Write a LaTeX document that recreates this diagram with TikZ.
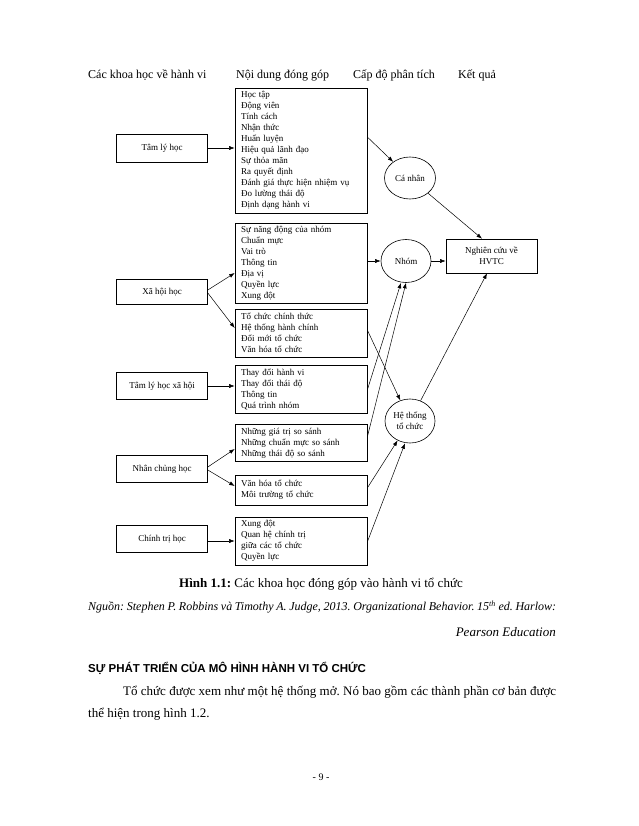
\documentclass[tikz,border=0pt]{standalone}
\usepackage{fontspec}
\setmainfont{Liberation Serif}
\newfontfamily\headsans{Liberation Sans}
\usetikzlibrary{shapes.geometric,arrows.meta}
\frenchspacing
\begin{document}
\begin{tikzpicture}[x=1pt,y=-1pt,
  lbox/.style={draw,line width=0.6pt,minimum width=91pt,minimum height=28pt,inner sep=0pt,font=\fontsize{9}{11}\selectfont},
  cbox/.style={draw,line width=0.6pt,inner xsep=6pt,inner ysep=0pt,text width=120pt,align=left,font=\fontsize{9}{11}\selectfont},
  ell/.style={draw,ellipse,line width=0.6pt,minimum width=51pt,minimum height=42pt,inner sep=0pt,align=center,font=\fontsize{9}{11}\selectfont},
  arr/.style={line width=0.5pt,-{Latex[length=5.5pt,width=4pt]}},
  txt/.style={inner sep=0pt,font=\fontsize{12}{14}\selectfont}
  ]
\fill[white] (0,0) rectangle (638,826);
\useasboundingbox (0,0) rectangle (638,826);

% headers
\node[txt,anchor=base west] (h1) at (88,79) {Các khoa học về hành vi};
\node[txt,anchor=base west] (h2) at (236,79) {Nội dung đóng góp};
\node[txt,anchor=base west] (h3) at (353,79) {Cấp độ phân tích};
\node[txt,anchor=base west] (h4) at (458,79) {Kết quả};

% left column
\node[lbox] (tamly) at (162,148) {Tâm lý học};
\node[lbox,minimum height=25pt] (xahoi) at (162,292) {Xã hội học};
\node[lbox,minimum height=27pt] (tlxh) at (162,386) {Tâm lý học xã hội};
\node[lbox,minimum height=27pt] (nhanchung) at (162,469) {Nhân chủng học};
\node[lbox,minimum height=27pt] (chinhtri) at (162,539) {Chính trị học};

% middle column
\node[cbox,minimum height=125pt] (b1) at (301,150.5) {Học tập\\Động viên\\Tính cách\\Nhận thức\\Huấn luyện\\Hiệu quả lãnh đạo\\Sự thỏa mãn\\Ra quyết định\\Đánh giá thực hiện nhiệm vụ\\Đo lường thái độ\\Định dạng hành vi};
\node[cbox,minimum height=80pt] (b2) at (301,263) {Sự năng động của nhóm\\Chuẩn mực\\Vai trò\\Thông tin\\Địa vị\\Quyền lực\\Xung đột};
\node[cbox,minimum height=48pt] (b3) at (301,333) {Tổ chức chính thức\\Hệ thống hành chính\\Đổi mới tổ chức\\Văn hóa tổ chức};
\node[cbox,minimum height=48pt] (b4) at (301,389) {Thay đổi hành vi\\Thay đổi thái độ\\Thông tin\\Quá trình nhóm};
\node[cbox,minimum height=37pt] (b5) at (301,443) {Những giá trị so sánh\\Những chuẩn mực so sánh\\Những thái độ so sánh};
\node[cbox,minimum height=30pt] (b6) at (301,490) {Văn hóa tổ chức\\Môi trường tổ chức};
\node[cbox,minimum height=48pt] (b7) at (301,541) {Xung đột\\Quan hệ chính trị\\giữa các tổ chức\\Quyền lực};

% analysis level
\node[ell] (canhan) at (410,178) {Cá nhân};
\node[ell,minimum width=50pt,minimum height=43pt] (nhom) at (406,261) {Nhóm};
\node[ell,minimum width=50pt,minimum height=44pt] (heth) at (410,421) {Hệ thống\\tổ chức};
\node[draw,line width=0.6pt,minimum width=91pt,minimum height=34pt,inner sep=0pt,align=center,font=\fontsize{9}{11}\selectfont] (hvtc) at (491.5,256) {Nghiên cứu về\\HVTC};

% left arrows
\draw[arr] (tamly.east) -- (b1.west |- tamly.east);
\draw[arr] (xahoi.east |- 0,290) -- (b2.west |- 0,273);
\draw[arr] (xahoi.east |- 0,293) -- (b3.west |- 0,328);
\draw[arr] (tlxh.east) -- (b4.west |- tlxh.east);
\draw[arr] (nhanchung.east |- 0,467) -- (b5.west |- 0,449);
\draw[arr] (nhanchung.east |- 0,470) -- (b6.west |- 0,486);
\draw[arr] (chinhtri.east |- 0,541) -- (b7.west |- 0,541);

% right arrows
\draw[arr] (b1.east |- 0,137) -- (canhan);
\draw[arr] (canhan) -- (482,0 |- hvtc.north);
\draw[arr] (b2.east |- nhom.west) -- (nhom.west);
\draw[arr] (nhom.east) -- (hvtc.west |- nhom.east);
\draw[arr] (b3.east |- 0,330) -- (heth);
\draw[arr] (b4.east |- 0,390) -- (401,0 |- nhom.south);
\draw[arr] (b5.east |- 0,437) -- (nhom.south);
\draw[arr] (b6.east |- 0,488) -- (heth);
\draw[arr] (b7.east |- 0,542) -- (405,0 |- heth.south);
\draw[arr] (heth) -- (487,0 |- hvtc.south);

% caption and text
\node[inner sep=0pt,font=\fontsize{13}{15}\selectfont] (cap) at (321,584) {\textbf{Hình 1.1:} Các khoa học đóng góp vào hành vi tổ chức};
\node[inner sep=0pt,anchor=west,font=\fontsize{12}{15}\selectfont] (src1) at (88,607) {\makebox[468pt][s]{\itshape Nguồn: Stephen P. Robbins và Timothy A. Judge, 2013. Organizational Behavior. 15\textsuperscript{th} ed. Harlow:}};
\node[inner sep=0pt,anchor=east,font=\fontsize{13}{15}\selectfont] (src2) at (556,632) {\itshape Pearson Education};
\node[inner sep=0pt,anchor=west,font=\headsans\bfseries\fontsize{11.5}{14}\selectfont] (head) at (88,668) {SỰ PHÁT TRIỂN CỦA MÔ HÌNH HÀNH VI TỔ CHỨC};
\node[inner sep=0pt,anchor=west,font=\fontsize{13}{15}\selectfont] (p1) at (123,692) {\makebox[433pt][s]{Tổ chức được xem như một hệ thống mở. Nó bao gồm các thành phần cơ bản được}};
\node[inner sep=0pt,anchor=west,font=\fontsize{13}{15}\selectfont] (p2) at (88,714) {thể hiện trong hình 1.2.};
\node[inner sep=0pt,font=\fontsize{10}{12}\selectfont] (pg) at (321,777) {- 9 -};
\end{tikzpicture}
\end{document}
